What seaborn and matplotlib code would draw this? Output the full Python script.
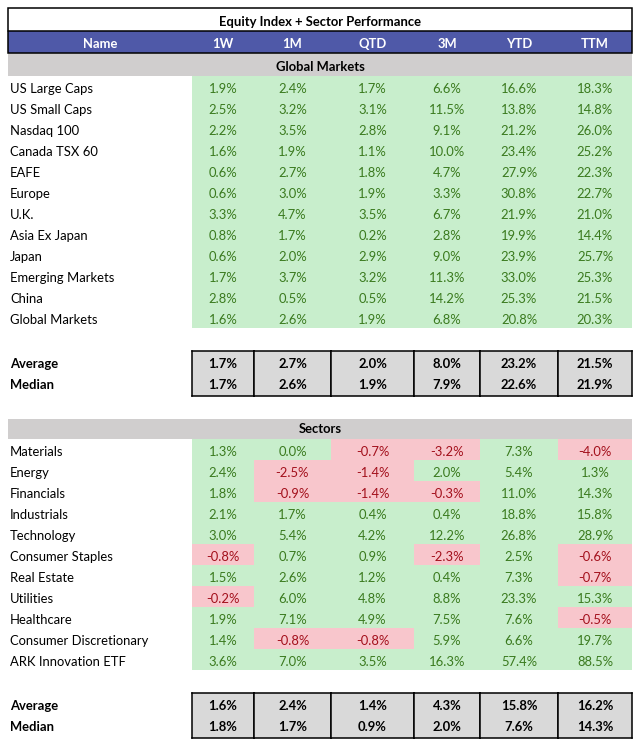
import numpy as np
import pandas as pd
import matplotlib
matplotlib.use("Agg")
import matplotlib.pyplot as plt
from matplotlib.colors import ListedColormap
from matplotlib.patches import Rectangle
import seaborn as sns

# ---------------- data ----------------
title = "Equity Index + Sector Performance"
columns = ["1W", "1M", "QTD", "3M", "YTD", "TTM"]

global_names = ["US Large Caps", "US Small Caps", "Nasdaq 100", "Canada TSX 60", "EAFE",
                "Europe", "U.K.", "Asia Ex Japan", "Japan", "Emerging Markets", "China",
                "Global Markets"]
global_1w = [1.9, 2.5, 2.2, 1.6, 0.6, 0.6, 3.3, 0.8, 0.6, 1.7, 2.8, 1.6]
global_1m = [2.4, 3.2, 3.5, 1.9, 2.7, 3.0, 4.7, 1.7, 2.0, 3.7, 0.5, 2.6]
global_qtd = [1.7, 3.1, 2.8, 1.1, 1.8, 1.9, 3.5, 0.2, 2.9, 3.2, 0.5, 1.9]
global_3m = [6.6, 11.5, 9.1, 10.0, 4.7, 3.3, 6.7, 2.8, 9.0, 11.3, 14.2, 6.8]
global_ytd = [16.6, 13.8, 21.2, 23.4, 27.9, 30.8, 21.9, 19.9, 23.9, 33.0, 25.3, 20.8]
global_ttm = [18.3, 14.8, 26.0, 25.2, 22.3, 22.7, 21.0, 14.4, 25.7, 25.3, 21.5, 20.3]
global_avg = [1.7, 2.7, 2.0, 8.0, 23.2, 21.5]
global_med = [1.7, 2.6, 1.9, 7.9, 22.6, 21.9]

sector_names = ["Materials", "Energy", "Financials", "Industrials", "Technology",
                "Consumer Staples", "Real Estate", "Utilities", "Healthcare",
                "Consumer Discretionary", "ARK Innovation ETF"]
sector_1w = [1.3, 2.4, 1.8, 2.1, 3.0, -0.8, 1.5, -0.2, 1.9, 1.4, 3.6]
sector_1m = [0.0, -2.5, -0.9, 1.7, 5.4, 0.7, 2.6, 6.0, 7.1, -0.8, 7.0]
sector_qtd = [-0.7, -1.4, -1.4, 0.4, 4.2, 0.9, 1.2, 4.8, 4.9, -0.8, 3.5]
sector_3m = [-3.2, 2.0, -0.3, 0.4, 12.2, -2.3, 0.4, 8.8, 7.5, 5.9, 16.3]
sector_ytd = [7.3, 5.4, 11.0, 18.8, 26.8, 2.5, 7.3, 23.3, 7.6, 6.6, 57.4]
sector_ttm = [-4.0, 1.3, 14.3, 15.8, 28.9, -0.6, -0.7, 15.3, -0.5, 19.7, 88.5]
sector_avg = [1.6, 2.4, 1.4, 4.3, 15.8, 16.2]
sector_med = [1.8, 1.7, 0.9, 2.0, 7.6, 14.3]

stat_labels = ["Average", "Median"]

global_df = pd.DataFrame(dict(zip(columns, [global_1w, global_1m, global_qtd,
                                             global_3m, global_ytd, global_ttm])),
                         index=global_names)
sector_df = pd.DataFrame(dict(zip(columns, [sector_1w, sector_1m, sector_qtd,
                                             sector_3m, sector_ytd, sector_ttm])),
                         index=sector_names)
global_stats = pd.DataFrame([global_avg, global_med], columns=columns, index=stat_labels)
sector_stats = pd.DataFrame([sector_avg, sector_med], columns=columns, index=stat_labels)

# ---------------- style ----------------
W, H = 636, 742
FONT = ["Lato", "DejaVu Sans"]
FS = 9.4
BLUE = "#4F59A8"
SEC_GRAY = "#D0CECE"
STAT_GRAY = "#D9D9D9"
GREEN_FILL = "#C8EECC"
GREEN_TXT = "#3A7A1E"
PINK_FILL = "#F8C6CC"
PINK_TXT = "#A3101C"

sns.set_theme(style="white")
plt.rcParams["font.family"] = FONT

# layout (pixels)
x_left, x_right = 8, 632
col_edges = [192, 254, 331, 414, 480, 558, 632]
row_h = 21.0
base_off = 17.3          # baseline offset inside a data row
stat_base = [17.0, 38.2]  # baseline offsets inside a stats box
title_top, title_bot, head_bot = 7.5, 30.8, 53.3
sections = [
    dict(name="Global Markets", df=global_df, stats=global_stats,
         sec_top=53.3, sec_bot=76.0, sec_base=71.0, box_top=351.0, box_bot=395.5),
    dict(name="Sectors", df=sector_df, stats=sector_stats,
         sec_top=418.5, sec_bot=438.6, sec_base=433.0, box_top=692.5, box_bot=737.5),
]

fig = plt.figure(figsize=(W / 100, H / 100), dpi=100)
bg = fig.add_axes([0, 0, 1, 1], zorder=0)
bg.set_xlim(0, W)
bg.set_ylim(H, 0)
bg.axis("off")


def px_axes(x0, y0, x1, y1):
    return fig.add_axes([x0 / W, 1 - y1 / H, (x1 - x0) / W, (y1 - y0) / H], zorder=2)


def fmt(v):
    return f"{v:.1f}%"


# title + header
bg.add_patch(Rectangle((x_left, title_top), x_right - x_left, title_bot - title_top,
                       facecolor="white", edgecolor="none"))
bg.add_patch(Rectangle((x_left, title_bot), x_right - x_left, head_bot - title_bot,
                       facecolor=BLUE, edgecolor="none"))
bg.add_patch(Rectangle((x_left, title_top), x_right - x_left, head_bot - title_top,
                       facecolor="none", edgecolor="black", lw=1.1, zorder=5))
bg.plot([x_left, x_right], [title_bot, title_bot], color="black", lw=1.1, zorder=5)
bg.text((x_left + x_right) / 2, 26.0, title, ha="center",
        va="baseline", fontsize=FS, fontweight="bold", color="black")
bg.text((x_left + col_edges[0]) / 2, 47.7, "Name", ha="center",
        va="baseline", fontsize=FS, fontweight="bold", color="white")
for j, c in enumerate(columns):
    bg.text((col_edges[j] + col_edges[j + 1]) / 2, 47.7, c,
            ha="center", va="baseline", fontsize=FS, fontweight="bold", color="white")

cmap_sign = ListedColormap([PINK_FILL, GREEN_FILL])
cmap_stat = ListedColormap([STAT_GRAY])

for sec in sections:
    df = sec["df"]
    st = sec["stats"]
    # section gray band
    bg.add_patch(Rectangle((x_left, sec["sec_top"]), x_right - x_left,
                           sec["sec_bot"] - sec["sec_top"], facecolor=SEC_GRAY,
                           edgecolor="none"))
    bg.text((x_left + x_right) / 2, sec["sec_base"], sec["name"],
            ha="center", va="baseline", fontsize=FS, fontweight="bold", color="black")
    top = sec["sec_bot"]
    n = len(df)
    # row labels
    for i, name in enumerate(df.index):
        bg.text(10, top + i * row_h + base_off, name, ha="left", va="baseline",
                fontsize=FS, color="black")
    bh = (sec["box_bot"] - sec["box_top"]) / len(st)
    for i, name in enumerate(st.index):
        bg.text(10, sec["box_top"] + stat_base[i], name, ha="left", va="baseline",
                fontsize=FS, fontweight="bold", color="black")
    # data cells, one heatmap per column
    for j, c in enumerate(columns):
        ax = px_axes(col_edges[j], top, col_edges[j + 1], top + n * row_h)
        vals = df[[c]].to_numpy()
        sns.heatmap((vals >= 0).astype(float), ax=ax, cmap=cmap_sign, vmin=0, vmax=1,
                    annot=np.vectorize(fmt)(vals), fmt="", cbar=False,
                    xticklabels=False, yticklabels=False, linewidths=0,
                    annot_kws=dict(fontsize=FS, family=FONT))
        for i, (t, v) in enumerate(zip(ax.texts, vals.ravel())):
            t.set_color(GREEN_TXT if v >= 0 else PINK_TXT)
            t.set_va("baseline")
            t.set_y(i + base_off / row_h)
        ax.set_xlabel("")
        ax.set_ylabel("")
        # stats box column
        ax2 = px_axes(col_edges[j], sec["box_top"], col_edges[j + 1], sec["box_bot"])
        svals = st[[c]].to_numpy()
        sns.heatmap(np.zeros_like(svals), ax=ax2, cmap=cmap_stat, vmin=0, vmax=1,
                    annot=np.vectorize(fmt)(svals), fmt="", cbar=False,
                    xticklabels=False, yticklabels=False, linewidths=0,
                    annot_kws=dict(fontsize=FS, family=FONT, fontweight="bold",
                                   color="black"))
        for i, t in enumerate(ax2.texts):
            t.set_color("black")
            t.set_va("baseline")
            t.set_y(stat_base[i] / bh)
        ax2.set_xlabel("")
        ax2.set_ylabel("")
        for sp in ax2.spines.values():
            sp.set_visible(True)
            sp.set_color("black")
            sp.set_linewidth(1.1)

fig.savefig("out.png", dpi=100)
